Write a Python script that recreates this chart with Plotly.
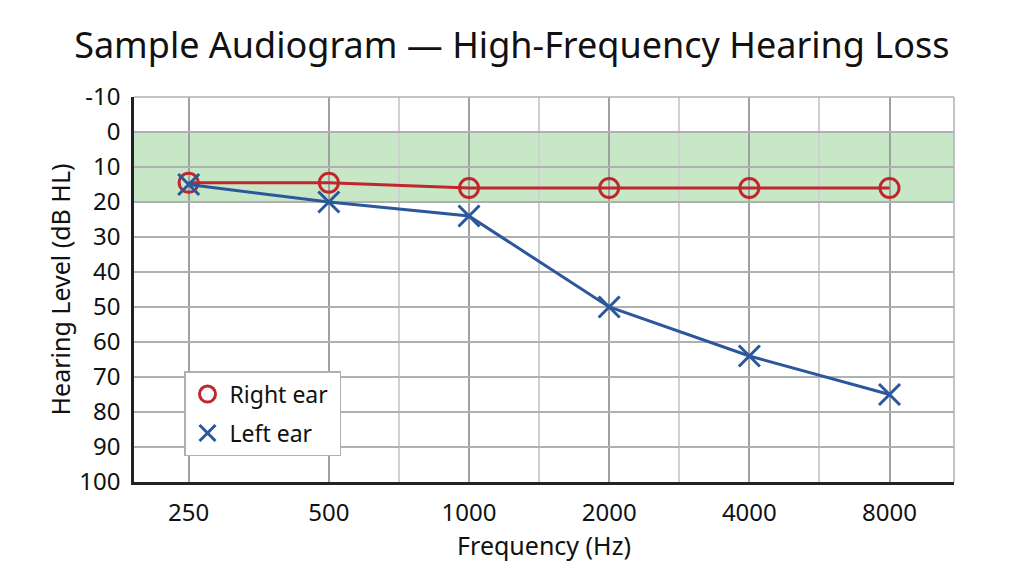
import plotly.graph_objects as go

freqs = ['250', '500', '1000', '2000', '4000', '8000']
right_ear = [14.5, 14.5, 16, 16, 16, 16]
left_ear = [15, 20, 24, 50, 64, 75]
y_ticks = [-10, 0, 10, 20, 30, 40, 50, 60, 70, 80, 90, 100]
y_labels = ['-10', '0', '10', '20', '30', '40', '50', '60', '70', '80', '90', '100']

x_pos = list(range(len(freqs)))
red = '#c0272d'
blue = '#2b579c'

fig = go.Figure()

fig.add_trace(go.Scatter(
    x=x_pos, y=right_ear, name='Right ear', mode='lines+markers', showlegend=False,
    line=dict(color=red, width=3),
    marker=dict(symbol='circle-open', size=19, color=red, line=dict(width=3, color=red)),
))
fig.add_trace(go.Scatter(
    x=x_pos, y=left_ear, name='Left ear', mode='lines+markers', showlegend=False,
    line=dict(color=blue, width=3),
    marker=dict(symbol='x-thin-open', size=21, color=blue, line=dict(width=3, color=blue)),
))
# legend entries show only the symbols
fig.add_trace(go.Scatter(
    x=[None], y=[None], name='Right ear ', mode='markers', legendgroup='r',
    marker=dict(symbol='circle-open', size=16, color=red, line=dict(width=3, color=red)),
))
fig.add_trace(go.Scatter(
    x=[None], y=[None], name='Left ear', mode='markers', legendgroup='l',
    marker=dict(symbol='x-thin-open', size=17, color=blue, line=dict(width=3, color=blue)),
))

# normal hearing band
fig.add_shape(type='rect', xref='paper', x0=0, x1=1, yref='y', y0=0, y1=20,
              fillcolor='#c8e7c6', line_width=0, layer='below')
# top / right border
fig.add_shape(type='line', xref='paper', yref='paper', x0=0, x1=1, y0=1, y1=1,
              line=dict(color='#b0b0b0', width=1.5))
fig.add_shape(type='line', xref='paper', yref='paper', x0=1, x1=1, y0=0, y1=1,
              line=dict(color='#b0b0b0', width=1.5))

fig.update_layout(
    width=1024, height=572,
    margin=dict(l=126, r=78, t=89, b=98),
    paper_bgcolor='white', plot_bgcolor='white',
    font=dict(family='Noto Sans', size=24, color='#111111'),
    title=dict(text='Sample Audiogram — High-Frequency Hearing Loss',
               x=0.492, xanchor='center', y=0.934, yanchor='middle',
               font=dict(size=36, color='#111111')),
    xaxis=dict(
        range=[-0.39, 5.46], tickmode='array', tickvals=x_pos, ticktext=freqs,
        showgrid=True, gridcolor='#a0a0a0', gridwidth=1.5,
        minor=dict(tickmode='array', tickvals=[1.5, 2.5, 3.5, 4.5],
                   showgrid=True, gridcolor='#d0d0d0', gridwidth=1.5, ticklen=0),
        showline=True, linecolor='#222222', linewidth=2.5,
        ticks='', ticklabelstandoff=7, zeroline=False, automargin=False,
        tickfont=dict(size=24),
        title=dict(text='Frequency (Hz)', font=dict(size=25), standoff=2),
    ),
    yaxis=dict(
        range=[100, -10], tickmode='array', tickvals=y_ticks, ticktext=y_labels,
        showgrid=True, gridcolor='#b0b0b0', gridwidth=1.5,
        showline=True, linecolor='#222222', linewidth=2.5,
        ticks='', ticklabelstandoff=6, zeroline=False, automargin=False,
        tickfont=dict(size=24),
        title=dict(text='Hearing Level (dB HL)', font=dict(size=25), standoff=2),
    ),
    legend=dict(x=0.061, y=0.288, xanchor='left', yanchor='top',
                bgcolor='white', bordercolor='#b0b0b0', borderwidth=1.5,
                font=dict(size=23), itemwidth=34, tracegroupgap=6),
    showlegend=True,
)

fig.write_html('out.html')
